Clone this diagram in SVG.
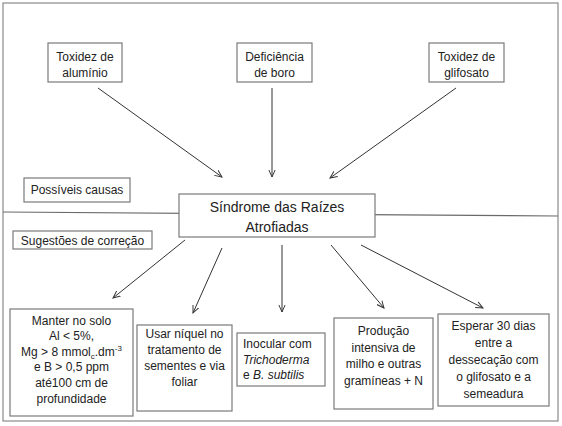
<svg xmlns="http://www.w3.org/2000/svg" width="562" height="426" viewBox="0 0 562 426">
<defs>
<style>
.box{fill:#fff;stroke:#7a7a7a;stroke-width:1.2}
.t{font-family:"Liberation Sans",Arial,sans-serif;font-size:12px;fill:#222;text-anchor:middle}
.tl{font-family:"Liberation Sans",Arial,sans-serif;font-size:12px;fill:#222}
.big{font-size:14px}
.c{stroke:#333;stroke-width:1;fill:none;marker-end:url(#ah)}
</style>
<marker id="ah" viewBox="0 0 10 10" refX="9" refY="5" markerWidth="8" markerHeight="8" orient="auto" markerUnits="userSpaceOnUse">
<path d="M0,1 L9,5 L0,9" fill="none" stroke="#333" stroke-width="1.2"/>
</marker>
</defs>
<rect width="562" height="426" fill="#fff"/>
<rect x="3" y="3" width="555" height="418" fill="none" stroke="#8a8a8a" stroke-width="1.2"/>
<line x1="3" y1="212" x2="558" y2="216" stroke="#6a6a6a" stroke-width="1.2"/>
<g id="connectors">
<line class="c" x1="98" y1="88" x2="222" y2="177"/>
<line class="c" x1="272" y1="88" x2="272" y2="177"/>
<line class="c" x1="456" y1="88" x2="330" y2="178"/>
<line class="c" x1="185" y1="240" x2="113" y2="298"/>
<line class="c" x1="222" y1="248" x2="193" y2="313"/>
<line class="c" x1="282" y1="245" x2="282" y2="312"/>
<line class="c" x1="331" y1="245" x2="384" y2="308"/>
<line class="c" x1="361" y1="245" x2="483" y2="308"/>
</g>
<g id="n-aluminio">
<rect class="box" x="48" y="43" width="74" height="39"/>
<text class="t" x="85" y="61">Toxidez de</text>
<text class="t" x="85" y="77">alumínio</text>
</g>
<g id="n-boro">
<rect class="box" x="237" y="43" width="75" height="39"/>
<text class="t" x="274.5" y="61">Deficiência</text>
<text class="t" x="274.5" y="77">de boro</text>
</g>
<g id="n-glifosato">
<rect class="box" x="429" y="43" width="75" height="39"/>
<text class="t" x="466.5" y="61">Toxidez de</text>
<text class="t" x="466.5" y="77">glifosato</text>
</g>
<g id="n-causas">
<rect class="box" x="24" y="178" width="106" height="24"/>
<text class="t" x="77" y="194">Possíveis causas</text>
</g>
<g id="n-sindrome">
<rect class="box" x="179" y="194" width="196" height="43"/>
<text class="t big" x="277" y="212">Síndrome das Raízes</text>
<text class="t big" x="277" y="232">Atrofiadas</text>
</g>
<g id="n-sugestoes">
<rect class="box" x="13" y="231" width="139" height="18"/>
<text class="t" x="82.5" y="245">Sugestões de correção</text>
</g>
<g id="n-manter">
<rect class="box" x="10" y="309" width="123" height="107"/>
<text class="t" x="71.5" y="325">Manter no solo</text>
<text class="t" x="71.5" y="340">Al &lt; 5%,</text>
<text class="t" x="71.5" y="356">Mg &gt; 8 mmol<tspan font-size="8" dy="3">c</tspan><tspan dy="-3">.dm</tspan><tspan font-size="8" dy="-5">-3</tspan></text>
<text class="t" x="71.5" y="371">e B &gt; 0,5 ppm</text>
<text class="t" x="71.5" y="387">até100 cm de</text>
<text class="t" x="71.5" y="403">profundidade</text>
</g>
<g id="n-niquel">
<rect class="box" x="137" y="325" width="95" height="86"/>
<text class="t" x="184.5" y="338">Usar níquel no</text>
<text class="t" x="184.5" y="354">tratamento de</text>
<text class="t" x="184.5" y="370">sementes e via</text>
<text class="t" x="184.5" y="386">foliar</text>
</g>
<g id="n-inocular">
<rect class="box" x="237" y="333" width="88" height="53"/>
<text class="tl" x="243" y="348">Inocular com</text>
<text class="tl" x="243" y="364" font-style="italic">Trichoderma</text>
<text class="tl" x="243" y="379">e <tspan font-style="italic">B. subtilis</tspan></text>
</g>
<g id="n-producao">
<rect class="box" x="334" y="318" width="99" height="91"/>
<text class="t" x="383.5" y="335">Produção</text>
<text class="t" x="383.5" y="352">intensiva de</text>
<text class="t" x="383.5" y="368">milho e outras</text>
<text class="t" x="383.5" y="385">gramíneas + N</text>
</g>
<g id="n-esperar">
<rect class="box" x="438" y="314" width="111" height="92"/>
<text class="t" x="493.5" y="330">Esperar 30 dias</text>
<text class="t" x="493.5" y="347">entre a</text>
<text class="t" x="493.5" y="364">dessecação com</text>
<text class="t" x="493.5" y="381">o glifosato e a</text>
<text class="t" x="493.5" y="398">semeadura</text>
</g>
</svg>
